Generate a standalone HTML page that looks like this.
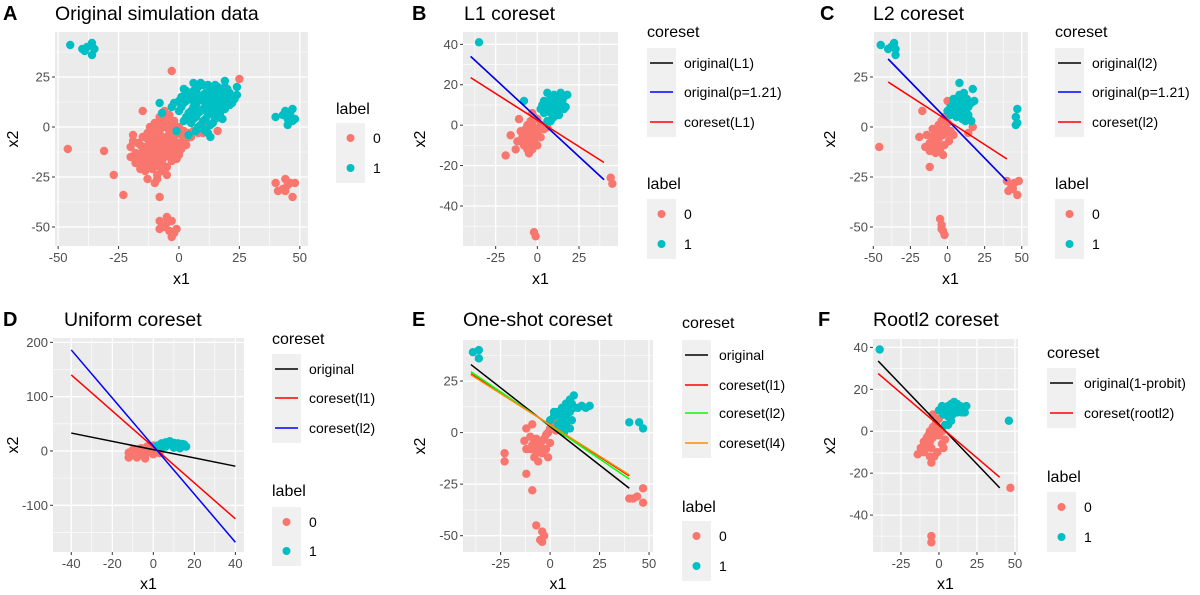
<!DOCTYPE html>
<html><head><meta charset="utf-8">
<style>
html,body{margin:0;padding:0;background:#fff;}
svg{display:block;font-family:"Liberation Sans",Arial,sans-serif;}
</style></head>
<body>
<svg id="fig" width="1200" height="595" viewBox="0 0 1200 595"></svg>
<script>
// ---------- DATA ----------
const panelLetters = ["A","B","C","D","E","F"];
const panelTitles = ["Original simulation data","L1 coreset","L2 coreset","Uniform coreset","One-shot coreset","Rootl2 coreset"];
const xTicksA = [-50,-25,0,25,50], yTicksA = [25,0,-25,-50];
const xTicksB = [-25,0,25], yTicksB = [40,20,0,-20,-40];
const xTicksC = [-50,-25,0,25,50], yTicksC = [25,0,-25,-50];
const xTicksD = [-40,-20,0,20,40], yTicksD = [200,100,0,-100];
const xTicksE = [-25,0,25,50], yTicksE = [25,0,-25,-50];
const xTicksF = [-25,0,25,50], yTicksF = [40,20,0,-20,-40];

const redA = [[-15,-5],[-12,-2],[-10,2],[-8,5],[-6,8],[-4,6],[-2,3],[0,0],[2,-2],[4,-3],[-14,-10],[-12,-8],[-10,-5],[-8,-2],[-6,0],[-4,-2],[-2,-5],[0,-8],[2,-6],[-16,-14],[-13,-14],[-10,-12],[-8,-10],[-6,-8],[-4,-10],[-2,-12],[0,-14],[-18,-18],[-15,-18],[-12,-18],[-9,-16],[-6,-15],[-3,-17],[-11,-21],[-8,-20],[-5,-20],[-14,-22],[-9,-24],[-19,-4],[-20,-10],[-18,-13],[-17,-8],[-6,3],[-9,0],[-11,-15],[-7,-13],[-5,-5],[5,-5],[8,-3],[10,0],[-13,-26],[-10,-28],[-5,-24],[-13,-3],[-46,-11],[-31,-12],[-27,-24],[-23,-34],[-3,28],[25,24],[-8,-35],[-15,8],[2,-8],[6,-2],[10,-3],[16,-2],[-8,-47],[-5,-45],[-3,-47],[-6,-50],[-4,-52],[-2,-53],[-1,-51],[-8,-51],[-3,-55],[-5,-48],[40,-28],[41,-32],[43,-31],[44,-26],[45,-29],[46,-28],[47,-35],[48,-28],[44,-32],
[-13,-6],[-11,-4],[-9,-3],[-7,2],[-5,4],[-3,1],[-1,-2],[1,-4],[3,-6],[-15,-12],[-11,-10],[-9,-7],[-7,-5],[-5,-7],[-3,-8],[-1,-10],[1,-11],[-17,-16],[-14,-16],[-11,-17],[-8,-14],[-5,-12],[-3,-14],[-1,-16],[-13,-20],[-10,-19],[-7,-18],[-16,-21],[-7,-22],[-12,0],[-4,0],[-2,-1],[3,-9],[-9,-26],[-20,-15],[-19,-7],[-16,-9],[-7,6],[-10,-9],[-12,-13],[-4,-14],[-6,-11]];
const cyanA = [[0,8],[2,12],[4,15],[6,18],[8,20],[3,5],[5,8],[7,11],[9,14],[11,17],[13,19],[15,21],[5,2],[7,5],[9,8],[11,11],[13,14],[15,16],[17,18],[19,20],[8,0],[10,3],[12,6],[14,9],[16,12],[18,14],[20,15],[11,-2],[13,1],[15,4],[17,7],[19,9],[21,11],[1,15],[3,18],[6,22],[-2,12],[-3,10],[23,14],[24,20],[24,16],[16,20],[12,-3],[-1,-2],[7,-2],[13,-5],[-7,7],[-8,12],[2,19],[19,23],[9,22],[22,12],[18,4],[4,-4],[-45,41],[-40,39],[-38,40],[-36,42],[-35,39],[-36,36],[-39,38],[40,5],[43,6],[45,4],[46,7],[47,9],[48,4],[45,1],[44,8],[47,3],
[1,10],[3,13],[5,16],[7,19],[10,21],[12,21],[4,7],[6,10],[8,13],[10,16],[12,15],[14,18],[16,18],[18,17],[6,4],[8,7],[10,9],[12,10],[14,12],[16,14],[18,11],[20,12],[9,1],[11,4],[13,7],[15,10],[17,9],[19,13],[21,17],[22,15],[2,3],[14,2],[16,6],[10,-1],[0,13],[20,19],[8,16],[11,13],[13,11],[6,13]];
const redB = [[-10,-8],[-8,-4],[-6,0],[-4,2],[-2,4],[0,3],[2,0],[4,-2],[-8,-10],[-6,-6],[-4,-4],[-2,-2],[0,-4],[2,-6],[-6,-12],[-4,-10],[-2,-8],[0,-10],[-12,-8],[-13,-12],[-5,-14],[-10,-3],[6,-1],[-3,6],[-11,3],[-16,-5],[-19,-15],[44,-26],[45,-29],[-2,-53],[-1,-55],[-7,-2],[-5,-8],[-3,0],[-1,-6],[1,-2],[-9,-6],[-3,-12],[-7,-9]];
const cyanB = [[2,8],[4,12],[6,16],[8,14],[10,10],[12,12],[14,16],[16,14],[18,15],[4,6],[6,8],[8,6],[10,4],[12,8],[14,10],[16,8],[6,2],[8,2],[3,10],[10,15],[13,5],[17,9],[-35,41],[-8,12],[5,10],[7,11],[9,9],[11,13],[13,14],[15,12],[11,7]];
const redC = [[-15,-10],[-12,-8],[-10,-5],[-8,-2],[-6,1],[-4,3],[-2,5],[0,2],[2,-2],[4,-4],[-12,-12],[-9,-9],[-6,-6],[-3,-4],[0,-3],[-8,-13],[-5,-11],[-2,-9],[1,-7],[-14,-4],[-3,-14],[-6,-3],[-10,-1],[0,13],[-46,-10],[-17,8],[-12,-20],[-19,-5],[17,0],[14,-3],[40,-27],[41,-32],[43,-30],[45,-28],[47,-34],[48,-27],[44,-31],[-5,-46],[-4,-49],[-3,-52],[-2,-54],[-4,-51],[-4,-1],[-7,-8],[-1,-1],[-9,-5]];
const cyanC = [[0,8],[2,10],[4,12],[6,14],[8,16],[10,14],[12,12],[14,10],[16,12],[2,6],[4,8],[6,10],[8,12],[10,10],[12,8],[14,6],[6,5],[8,6],[10,4],[12,3],[18,13],[16,3],[8,22],[17,19],[4,14],[11,17],[-45,41],[-40,39],[-36,42],[-35,39],[-35,36],[-38,40],[46,5],[47,9],[46,1],[47,2],[7,9],[9,13],[11,11],[13,14]];
const redD = [[-12,-3],[-10,-8],[-8,-12],[-6,-5],[-4,-9],[-2,0],[0,-6],[2,4],[-10,2],[-6,5],[-3,8],[0,10],[-12,-12],[-8,0],[-4,-14],[1,-2],[-1,6],[3,-4],[-7,-8],[-5,0],[-9,-4]];
const cyanD = [[2,10],[4,14],[6,16],[8,12],[10,15],[12,10],[14,13],[16,8],[6,8],[10,6],[13,5],[15,12],[4,6],[8,18],[11,11],[7,12],[12,14]];
const redE = [[-12,2],[-10,-2],[-8,-5],[-6,-8],[-4,-4],[-2,-1],[0,2],[2,5],[-10,-8],[-8,-12],[-6,-14],[-4,-10],[-2,-8],[0,-5],[-12,-8],[-9,4],[3,1],[-13,-4],[-7,-3],[5,8],[-1,-12],[-23,-10],[-23,-14],[-12,-20],[-9,-28],[-7,-45],[-4,-48],[-3,-50],[-4,-53],[-5,-52],[40,-32],[42,-32],[44,-31],[47,-27],[47,-34],[-5,-6],[-3,-3],[-7,-10],[-9,-6],[-1,0]];
const cyanE = [[0,6],[2,8],[4,10],[6,12],[8,14],[10,16],[12,18],[4,4],[6,6],[8,8],[10,10],[12,12],[14,12],[6,2],[8,4],[10,2],[16,13],[18,12],[20,13],[2,10],[7,0],[11,6],[-39,39],[-36,40],[-36,36],[40,5],[45,5],[47,2],[5,8],[7,10],[9,12],[11,14],[9,6]];
const redF = [[-14,-11],[-12,-8],[-10,-5],[-8,-3],[-6,0],[-4,2],[-2,4],[0,6],[2,0],[4,-4],[-10,-10],[-8,-8],[-6,-5],[-4,-3],[-2,-1],[0,-2],[-5,-15],[-3,-12],[-1,-10],[2,-6],[-12,-10],[-6,-12],[3,-8],[-4,8],[47,-27],[-5,-50],[-5,-53],[-7,-2],[-3,0],[-5,-8],[-1,2]];
const cyanF = [[0,10],[2,12],[4,11],[6,12],[8,13],[10,14],[12,13],[14,12],[16,11],[18,12],[3,8],[6,7],[9,8],[12,9],[15,9],[6,3],[8,5],[4,3],[17,9],[-39,39],[46,5],[5,9],[8,10],[11,11],[14,10]];

// line endpoints: [x1,y1,x2,y2]
const linesB = [[-40,34,40,-27],[-40,34,40,-27],[-40,23.5,40,-18.5]];
const linesC = [[-40,34,40,-27],[-40,34,40,-27],[-40,22.5,40,-16]];
const linesD = [[-40,33,40,-28],[-40,140,40,-125],[-40,186,40,-168]];
const linesE = [[-40,33,40,-27],[-40,28.5,40,-21],[-40,29.5,40,-22.5],[-40,28,40,-20.5]];
const linesF = [[-40,33.5,40,-27],[-40,27.5,40,-22]];
const legB = ["original(L1)","original(p=1.21)","coreset(L1)"];
const legC = ["original(l2)","original(p=1.21)","coreset(l2)"];
const legD = ["original","coreset(l1)","coreset(l2)"];
const legE = ["original","coreset(l1)","coreset(l2)","coreset(l4)"];
const legF = ["original(1-probit)","coreset(rootl2)"];
const labelLevels = ["0","1"];

// ---------- LAYOUT ----------
const RED="#F8766D", CYAN="#00BFC4";
const panels = [
 {L:55,R:308,T:32,B:246,xd:[-51.3,53.4],yd:[47.5,-59.5],xt:xTicksA,yt:yTicksA,red:redA,cyan:cyanA,lines:[],cols:[],leg:[],
  letterX:3,titleX:55,titleY:20,x1Y:290,x2X:13,legX:336,labTitleY:114,keyY:[138,168]},
 {L:463,R:618,T:32,B:246,xd:[-44.6,48.4],yd:[46.1,-59.8],xt:xTicksB,yt:yTicksB,red:redB,cyan:cyanB,lines:linesB,cols:["#000","#0000FF","#FF0000"],leg:legB,
  letterX:412,titleX:464,titleY:20,x1Y:290,x2X:420,legX:647,legTitleY:37,legY:[63,92,122],labTitleY:189,keyY:[214,244]},
 {L:873,R:1028,T:32,B:246,xd:[-50.2,54.2],yd:[47.5,-59.5],xt:xTicksC,yt:yTicksC,red:redC,cyan:cyanC,lines:linesC,cols:["#000","#0000FF","#FF0000"],leg:legC,
  letterX:820,titleX:873,titleY:20,x1Y:290,x2X:830,legX:1055,legTitleY:37,legY:[63,92,122],labTitleY:189,keyY:[214,244]},
 {L:53,R:244,T:338,B:552,xd:[-48.9,44.2],yd:[208,-186],xt:xTicksD,yt:yTicksD,red:redD,cyan:cyanD,lines:linesD,cols:["#000","#FF0000","#0000FF"],leg:legD,
  letterX:3,titleX:64,titleY:326,x1Y:595,x2X:13,legX:272,legTitleY:344,legY:[369,398,428],labTitleY:496,keyY:[522,551]},
 {L:463,R:653,T:340,B:552,xd:[-44.0,52.0],yd:[44.9,-57.9],xt:xTicksE,yt:yTicksE,red:redE,cyan:cyanE,lines:linesE,cols:["#000","#FF0000","#00FF00","#FF8C00"],leg:legE,
  letterX:412,titleX:463,titleY:326,x1Y:595,x2X:420,legX:682,legTitleY:328,legY:[355,385,413,443],labTitleY:512,keyY:[536,566]},
 {L:873,R:1018,T:339,B:552,xd:[-43.4,52.0],yd:[44.0,-57.6],xt:xTicksF,yt:yTicksF,red:redF,cyan:cyanF,lines:linesF,cols:["#000","#FF0000"],leg:legF,
  letterX:818,titleX:873,titleY:326,x1Y:595,x2X:830,legX:1047,legTitleY:358,legY:[383,413],labTitleY:482,keyY:[507,537]}
];
const NS="http://www.w3.org/2000/svg";
const svg=document.getElementById('fig');
function mk(tag,attrs,parent){const e=document.createElementNS(NS,tag);for(const k in attrs)e.setAttribute(k,attrs[k]);(parent||svg).appendChild(e);return e;}
function txt(s,attrs,parent){const e=mk('text',attrs,parent);e.textContent=s;return e;}

panels.forEach((p,i)=>{
  const g=mk('g',{});
  
  
  const sx=v=>p.L+(v-p.xd[0])/(p.xd[1]-p.xd[0])*(p.R-p.L);
  const sy=v=>p.T+(v-p.yd[0])/(p.yd[1]-p.yd[0])*(p.B-p.T);
  const bg=mk('rect',{x:p.L,y:p.T,width:p.R-p.L,height:p.B-p.T,fill:'#EBEBEB'},g);
  
  
  const xs=p.xt[1]-p.xt[0], ys=p.yt[0]-p.yt[1];
  const xmin=Math.min(...p.xd),xmax=Math.max(...p.xd),ymin=Math.min(...p.yd),ymax=Math.max(...p.yd);
  for(let v=p.xt[0]-xs*2+xs/2; v<xmax; v+=xs) if(v>xmin) mk('line',{x1:sx(v),x2:sx(v),y1:p.T,y2:p.B,stroke:'#fff','stroke-width':0.6},g);
  for(let v=p.yt[p.yt.length-1]-ys*2+ys/2; v<ymax; v+=ys) if(v>ymin) mk('line',{x1:p.L,x2:p.R,y1:sy(v),y2:sy(v),stroke:'#fff','stroke-width':0.6},g);
  p.xt.forEach(v=>{
    mk('line',{x1:sx(v),x2:sx(v),y1:p.T,y2:p.B,stroke:'#fff','stroke-width':1.3},g);
    mk('line',{x1:sx(v),x2:sx(v),y1:p.B,y2:p.B+3,stroke:'#333','stroke-width':1},g);
    const t=txt(String(v),{x:sx(v),y:p.B+16,'font-size':13,fill:'#4D4D4D','text-anchor':'middle'},g);
    
    
  });
  p.yt.forEach(v=>{
    mk('line',{x1:p.L,x2:p.R,y1:sy(v),y2:sy(v),stroke:'#fff','stroke-width':1.3},g);
    mk('line',{x1:p.L-3,x2:p.L,y1:sy(v),y2:sy(v),stroke:'#333','stroke-width':1},g);
    const t=txt(String(v),{x:p.L-5,y:sy(v)+4.5,'font-size':13,fill:'#4D4D4D','text-anchor':'end'},g);
    
    
  });
  const pts=mk('g',{},g);
  
  
  p.red.forEach(d=>{const c=mk('circle',{cx:sx(d[0]),cy:sy(d[1]),r:4.2,fill:RED},pts);
    
    });
  p.cyan.forEach(d=>{const c=mk('circle',{cx:sx(d[0]),cy:sy(d[1]),r:4.2,fill:CYAN},pts);
    
    });
  p.lines.forEach((l,j)=>{const e=mk('line',{x1:sx(l[0]),y1:sy(l[1]),x2:sx(l[2]),y2:sy(l[3]),stroke:p.cols[j],'stroke-width':1.5},g);
    
    });
  const lt=txt(panelLetters[i],{x:p.letterX,y:p.titleY,'font-size':20,'font-weight':'bold',fill:'#000'},g);
  
  
  const tt=txt(panelTitles[i],{x:p.titleX,y:p.titleY,'font-size':19.5,fill:'#000'},g);
  
  
  const xa=txt('x1',{x:(p.L+p.R)/2,y:p.x1Y-6,'font-size':16,fill:'#000','text-anchor':'middle'},g);
  
  
  const ya=txt('x2',{x:0,y:0,'font-size':16,fill:'#000','text-anchor':'middle',transform:`translate(${p.x2X+5},${(p.T+p.B)/2}) rotate(-90)`},g);
  
  
  if(p.leg.length){
    const lg=mk('g',{},g);
    
    
    txt('coreset',{x:p.legX,y:p.legTitleY,'font-size':16,fill:'#000'},lg);
    mk('rect',{x:p.legX,y:p.legY[0]-15,width:29,height:p.legY[p.legY.length-1]-p.legY[0]+30,fill:'#F0F0F0'},lg);
    p.leg.forEach((s,j)=>{
      mk('line',{x1:p.legX+3,x2:p.legX+26,y1:p.legY[j],y2:p.legY[j],stroke:p.cols[j],'stroke-width':1.6},lg);
      const e=txt(s,{x:p.legX+37,y:p.legY[j]+5,'font-size':14,fill:'#000'},lg);
      
      
    });
  }
  const lb=mk('g',{},g);
  
  
  txt('label',{x:p.legX,y:p.labTitleY,'font-size':16,fill:'#000'},lb);
  mk('rect',{x:p.legX,y:p.keyY[0]-15,width:29,height:p.keyY[1]-p.keyY[0]+30,fill:'#F0F0F0'},lb);
  labelLevels.forEach((s,j)=>{
    mk('circle',{cx:p.legX+14.5,cy:p.keyY[j],r:4,fill:j?CYAN:RED},lb);
    const e=txt(s,{x:p.legX+37,y:p.keyY[j]+5,'font-size':14,fill:'#000'},lb);
    
    
  });
});
</script>
</body></html>
